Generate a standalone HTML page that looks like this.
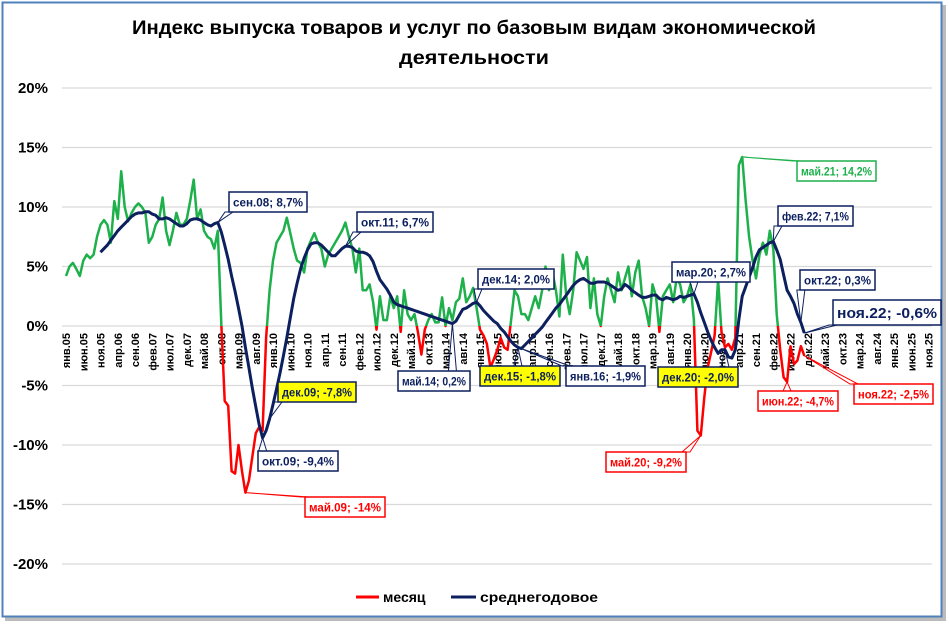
<!DOCTYPE html>
<html><head><meta charset="utf-8">
<style>
body{margin:0;background:#fff;}
svg text{font-family:"Liberation Sans",sans-serif;}
</style></head>
<body>
<svg id="chart" width="949" height="622" viewBox="0 0 949 622" xmlns="http://www.w3.org/2000/svg">
<defs>
<clipPath id="above"><rect x="0" y="0" width="949" height="326"/></clipPath>
<clipPath id="below"><rect x="0" y="326" width="949" height="300"/></clipPath>
</defs>
<rect x="5" y="5" width="941" height="616" fill="#bbb"/>
<rect x="2.5" y="2.5" width="939" height="614" fill="#fff" stroke="#4f81bd" stroke-width="2"/>
<text x="474" y="34" text-anchor="middle" font-size="19" font-weight="bold" textLength="684" lengthAdjust="spacingAndGlyphs">Индекс выпуска товаров и услуг по базовым видам экономической</text>
<text x="474" y="64" text-anchor="middle" font-size="19" font-weight="bold" textLength="150" lengthAdjust="spacingAndGlyphs">деятельности</text>
<g id="grid"></g>
<g id="ylabels"></g>
<g id="xlabels"></g>
<g id="series"></g>
<g id="notes"></g>
<g>
<line x1="356" y1="597" x2="379" y2="597" stroke="#ff0000" stroke-width="3"/>
<text x="383" y="602" font-size="14" font-weight="bold">месяц</text>
<line x1="451" y1="597" x2="476" y2="597" stroke="#0c1f5e" stroke-width="3"/>
<text x="480" y="602" font-size="14" font-weight="bold" textLength="118" lengthAdjust="spacingAndGlyphs">среднегодовое</text>
</g>
</svg>
<script>
const monthNames=['янв','фев','мар','апр','май','июн','июл','авг','сен','окт','ноя','дек'];
const yTicks=[20,15,10,5,0,-5,-10,-15,-20];
const monthly=[
4.2,5.0,5.3,4.8,4.2,5.5,6.0,5.7,6.0,7.5,8.5,8.9,
8.5,7.0,10.5,9.0,13.0,10.0,8.8,9.5,10.0,10.3,10.0,9.5,
7.0,7.5,8.5,9.0,10.8,8.0,6.8,8.0,9.5,8.5,8.5,9.0,
10.5,12.3,9.0,9.8,8.0,7.5,7.3,6.5,8.0,0.2,-6.3,-6.7,
-12.2,-12.4,-10.0,-12.2,-14.0,-13.0,-11.0,-9.0,-8.5,-8.8,-1.0,3.0,
5.5,7.0,7.5,8.0,9.1,7.8,6.5,5.5,5.3,4.5,6.5,7.2,
7.8,7.0,6.5,5.0,6.0,6.5,7.0,7.5,8.0,8.7,7.5,6.5,
4.5,6.5,3.0,3.0,3.5,2.0,-0.3,2.5,0.5,0.5,2.5,1.5,
2.5,-0.5,3.0,1.0,0.5,1.0,-0.5,-2.4,-0.3,0.5,1.0,0.3,
0.3,2.4,0.0,1.5,0.5,2.0,2.3,4.0,2.0,2.5,3.2,1.5,
-0.3,-0.8,-1.5,-3.5,-2.8,-2.0,-1.0,-1.8,-2.0,0.5,3.0,2.5,
1.0,1.0,0.5,1.5,2.5,1.5,3.0,5.0,3.0,4.5,3.0,0.8,
6.0,2.5,1.0,3.0,6.2,5.5,4.8,5.8,1.5,4.0,1.0,0.0,
2.5,4.0,3.0,2.0,4.5,3.0,4.0,5.0,2.5,4.5,5.5,2.5,
1.5,0.0,3.5,2.5,-0.5,2.5,3.0,3.5,2.0,4.0,3.5,2.0,
2.5,3.5,0.5,-8.8,-9.2,-6.0,-3.5,-2.2,-0.8,3.9,-0.5,-1.8,
-1.5,-2.0,-1.0,13.5,14.2,10.5,7.5,5.5,4.0,6.0,7.0,6.0,
8.0,6.5,1.0,-2.0,-4.3,-4.7,-1.7,-3.2,-2.9,-1.7,-2.5];
const avgStart=10;
const average=[
6.2,6.5,
6.8,7.2,7.6,8.0,8.3,8.6,8.9,9.2,9.4,9.5,9.5,9.6,
9.6,9.4,9.3,9.0,9.0,9.1,9.0,8.8,8.6,8.4,8.4,8.6,
8.9,9.0,9.0,8.9,8.7,8.5,8.4,8.6,8.7,7.9,6.8,5.6,
4.2,2.9,1.5,0.0,-1.8,-3.5,-5.2,-6.8,-8.3,-9.4,-8.8,-7.8,
-6.6,-5.3,-4.0,-2.5,-1.0,0.7,2.3,3.6,4.8,5.7,6.4,6.9,
7.0,7.0,6.8,6.5,6.2,5.9,5.9,6.2,6.5,6.7,6.7,6.6,
6.3,6.2,6.2,6.1,5.9,5.4,4.6,3.9,3.5,3.1,2.6,2.0,
1.8,1.7,1.6,1.5,1.4,1.3,1.2,1.1,1.0,0.9,0.8,0.7,
0.6,0.5,0.4,0.3,0.2,0.4,0.9,1.4,1.5,1.7,1.9,2.0,
1.7,1.3,1.0,0.7,0.4,0.2,-0.2,-0.5,-0.9,-1.3,-1.6,-1.8,
-1.9,-1.6,-1.3,-1.0,-0.7,-0.4,-0.1,0.3,0.7,1.1,1.5,1.8,
2.2,2.6,3.0,3.4,3.7,3.9,4.0,3.8,3.6,3.6,3.7,3.7,
3.7,3.6,3.4,3.2,3.0,3.1,3.5,3.3,3.0,2.8,2.6,2.4,
2.4,2.5,2.6,2.6,2.3,2.2,2.4,2.3,2.2,2.3,2.5,2.4,
2.5,2.6,2.7,2.0,1.1,0.3,-0.5,-1.2,-1.8,-2.3,-2.0,-2.0,
-2.6,-2.7,-2.0,0.5,2.5,3.3,4.1,4.9,5.8,6.4,6.6,6.8,
7.0,7.1,6.4,5.6,4.3,3.0,2.5,1.9,1.0,0.3,-0.6];
const notes=[
 {t:'сен.08; 8,7%',i:44,s:'avg',bx:229,by:192,w:78,c:'navy'},
 {t:'окт.11; 6,7%',i:81,s:'avg',bx:357,by:212,w:76,c:'navy'},
 {t:'дек.14; 2,0%',i:119,s:'avg',bx:478,by:269,w:76,c:'navy'},
 {t:'мар.20; 2,7%',i:182,s:'avg',bx:672,by:262,w:78,c:'navy'},
 {t:'фев.22; 7,1%',i:205,s:'avg',bx:778,by:206,w:75,c:'navy'},
 {t:'окт.22; 0,3%',i:213,s:'avg',bx:800,by:270,w:75,c:'navy'},
 {t:'ноя.22; -0,6%',i:214,s:'avg',bx:833,by:300,w:108,c:'navy',big:true},
 {t:'май.21; 14,2%',i:196,s:'m',bx:797,by:161,w:79,c:'green'},
 {t:'дек.09; -7,8%',i:59,s:'avg',bx:278,by:382,w:78,c:'yellow'},
 {t:'окт.09; -9,4%',i:57,s:'avg',bx:258,by:451,w:80,c:'navy'},
 {t:'май.09; -14%',i:52,s:'m',bx:305,by:497,w:80,c:'red'},
 {t:'май.14; 0,2%',i:112,s:'avg',bx:398,by:371,w:72,c:'navy'},
 {t:'дек.15; -1,8%',i:131,s:'avg',bx:480,by:366,w:80,c:'yellow'},
 {t:'янв.16; -1,9%',i:132,s:'avg',bx:566,by:366,w:79,c:'navy'},
 {t:'дек.20; -2,0%',i:191,s:'avg',bx:658,by:367,w:80,c:'yellow'},
 {t:'май.20; -9,2%',i:184,s:'m',bx:606,by:452,w:80,c:'red'},
 {t:'июн.22; -4,7%',i:209,s:'m',bx:758,by:391,w:80,c:'red'},
 {t:'ноя.22; -2,5%',i:214,s:'m',bx:854,by:384,w:79,c:'red'}];
const NS='http://www.w3.org/2000/svg';
const X0=66,DX=3.45,Y0=326,YK=11.9;
function xs(i){return X0+DX*i;}
function ys(v){return Y0-v*YK;}
function mk(tag,attrs,parent){const e=document.createElementNS(NS,tag);for(const k in attrs)e.setAttribute(k,attrs[k]);parent.appendChild(e);return e;}
const grid=document.getElementById('grid'),yl=document.getElementById('ylabels'),xl=document.getElementById('xlabels'),ser=document.getElementById('series'),nt=document.getElementById('notes');
yTicks.forEach(v=>{
 const l=mk('line',{x1:62,x2:932,y1:ys(v),y2:ys(v),stroke:'#d9d9d9','stroke-width':1.2},grid);
 
 
 const t=mk('text',{x:48,y:ys(v)+5,'text-anchor':'end','font-size':15,'font-weight':'bold'},yl);
 t.textContent=v+'%';
 
 
});
for(let i=0;i<=250;i+=5){
 const yr=(5+Math.floor(i/12)).toString().padStart(2,'0');
 const x=xs(i)+4;
 const t=mk('text',{x:x,y:333,transform:`rotate(-90 ${x} 333)`,'text-anchor':'end','font-size':11,'font-weight':'bold'},xl);
 t.textContent=monthNames[i%12]+'.'+yr;
 
 
}
const mPts=monthly.map((v,i)=>xs(i).toFixed(1)+','+ys(v).toFixed(1)).join(' ');
const g1=mk('polyline',{points:mPts,fill:'none',stroke:'#1eb04b','stroke-width':2.5,'clip-path':'url(#above)','stroke-linejoin':'round'},ser);


const r1=mk('polyline',{points:mPts,fill:'none',stroke:'#ff0000','stroke-width':2.5,'clip-path':'url(#below)','stroke-linejoin':'round'},ser);


const aPts=average.map((v,k)=>xs(k+avgStart).toFixed(1)+','+ys(v).toFixed(1)).join(' ');
const a1=mk('polyline',{points:aPts,fill:'none',stroke:'#0c1f5e','stroke-width':3,'stroke-linejoin':'round'},ser);


const cols={navy:['#fff','#0c1f5e','#0c1f5e'],green:['#fff','#1eb04b','#1eb04b'],red:['#fff','#ff0000','#ff0000'],yellow:['#ffff00','#0c1f5e','#0c1f5e']};
notes.forEach(n=>{
 const v=n.s==='avg'?average[n.i-avgStart]:monthly[n.i];
 const px=xs(n.i),py=ys(v);
 const c=cols[n.c];
 const h=n.big?25:20;
 const g=mk('g',{},nt);
 
 
 const ax=px<n.bx?n.bx:(px>n.bx+n.w?n.bx+n.w:px);
 const ay=py<n.by?n.by:n.by+h;
 const lc=n.c==='yellow'?'#0c1f5e':c[1];
 mk('polygon',{points:`${px},${py} ${ax-4},${ay} ${ax+4},${ay}`,fill:'none',stroke:lc,'stroke-width':1},g);
 mk('rect',{x:n.bx,y:n.by,width:n.w,height:h,fill:c[0],stroke:c[1],'stroke-width':1.5},g);
 const t=mk('text',{x:n.bx+n.w/2,y:n.by+(n.big?18:14.5),'text-anchor':'middle','font-size':n.big?15:11.5,'font-weight':'bold',fill:c[2],textLength:n.w-8,lengthAdjust:'spacingAndGlyphs'},g);
 t.textContent=n.t;
});
</script>
</body></html>
